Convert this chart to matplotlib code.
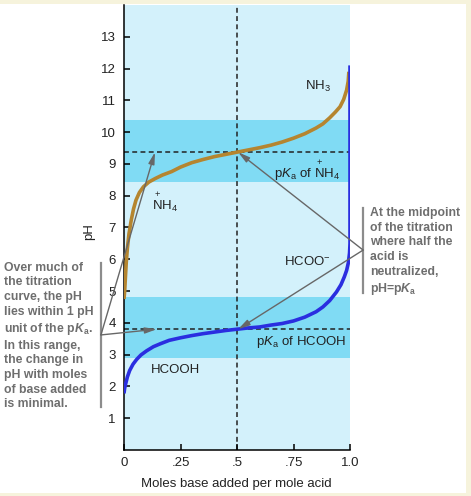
import matplotlib
matplotlib.use("Agg")
import matplotlib.pyplot as plt
from matplotlib.patches import Rectangle

plt.rcParams['font.family'] = ['Liberation Sans', 'DejaVu Sans']
plt.rcParams['mathtext.fontset'] = 'custom'
plt.rcParams['mathtext.rm'] = 'Liberation Sans'
plt.rcParams['mathtext.it'] = 'Liberation Sans:italic'
plt.rcParams['mathtext.bf'] = 'Liberation Sans:bold'
plt.rcParams['mathtext.bfit'] = 'Liberation Sans:bold:italic'

# HCOOH titration curve (blue)
hcooh_x = [0.0, 0.003, 0.008, 0.015, 0.025, 0.04, 0.056, 0.075, 0.10, 0.13, 0.16,
           0.20, 0.25, 0.30, 0.35, 0.40, 0.45, 0.50, 0.55, 0.60, 0.65, 0.70, 0.75,
           0.80, 0.85, 0.88, 0.91, 0.94, 0.96, 0.975, 0.985, 0.993, 0.998, 1.0, 1.0]
hcooh_ph = [1.78, 1.95, 2.1, 2.3, 2.5, 2.7, 2.85, 2.99, 3.12, 3.25, 3.34,
            3.45, 3.53, 3.6, 3.66, 3.71, 3.76, 3.8, 3.84, 3.87, 3.93, 3.98, 4.06,
            4.18, 4.35, 4.5, 4.7, 4.97, 5.2, 5.45, 5.65, 5.9, 6.2, 6.5, 12.1]

# NH4+ titration curve (brown)
nh4_x = [0.0, 0.003, 0.006, 0.01, 0.015, 0.022, 0.032, 0.042, 0.053, 0.068, 0.086,
         0.11, 0.138, 0.17, 0.211, 0.25, 0.30, 0.35, 0.40, 0.45, 0.50, 0.55, 0.60,
         0.65, 0.70, 0.75, 0.80, 0.85, 0.88, 0.91, 0.935, 0.956, 0.972, 0.985,
         0.992, 0.995]
nh4_ph = [4.75, 5.0, 5.4, 5.9, 6.35, 6.8, 7.23, 7.58, 7.86, 8.1, 8.28,
          8.43, 8.54, 8.65, 8.76, 8.9, 9.04, 9.14, 9.23, 9.3, 9.37, 9.44, 9.51,
          9.59, 9.69, 9.81, 9.95, 10.13, 10.26, 10.45, 10.63, 10.8, 11.03, 11.32,
          11.6, 11.9]

pka_nh4 = 9.37
pka_hcooh = 3.8
band_nh4 = (8.43, 10.38)
band_hcooh = (2.89, 4.81)

xticks = [0, 0.25, 0.5, 0.75, 1.0]
xticklabels = ['0', '.25', '.5', '.75', '1.0']
yticks = list(range(1, 14))

W, H = 471, 496
fig = plt.figure(figsize=(W / 100, H / 100), dpi=100)
fig.patch.set_facecolor('#f6f3dc')
fig.patches.append(Rectangle((0, 3 / H), 466 / W, 489 / H, transform=fig.transFigure,
                             facecolor='white', edgecolor='none', zorder=-10))

ax = fig.add_axes([124 / W, 1 - 450 / H, 226 / W, 445 / H])
ax.set_facecolor('#d3f1fb')
ax.set_xlim(0, 1.0)
ax.set_ylim(0, 14)

ax.axhspan(*band_nh4, color='#80dbf4', lw=0, zorder=0)
ax.axhspan(*band_hcooh, color='#80dbf4', lw=0, zorder=0)

dash = (0, (3.2, 2.2))
ax.axhline(pka_nh4, color='#222222', lw=1.1, ls=dash, zorder=1)
ax.axhline(pka_hcooh, color='#222222', lw=1.1, ls=dash, zorder=1)
ax.axvline(0.5, color='#222222', lw=1.1, ls=dash, zorder=1)

ax.plot(nh4_x, nh4_ph, color='#b5852f', lw=2.6, solid_capstyle='butt',
        solid_joinstyle='round', zorder=3)
ax.plot(hcooh_x, hcooh_ph, color='#2a2ee0', lw=2.6, solid_capstyle='butt',
        solid_joinstyle='round', zorder=3)

for s in ['top', 'right']:
    ax.spines[s].set_visible(False)
for s in ['left', 'bottom']:
    ax.spines[s].set_linewidth(1.1)

ax.set_xticks(xticks)
ax.set_xticklabels(xticklabels)
ax.set_yticks(yticks)
ax.tick_params(direction='in', length=4, width=1.1, labelsize=9.5, labelcolor='#222222')
ax.tick_params(axis='x', pad=5)
ax.tick_params(axis='y', pad=6)

ax.set_xlabel('Moles base added per mole acid', fontsize=9.5, color='#222222')
ax.xaxis.set_label_coords(0.496, -0.062)
ax.set_ylabel('pH', fontsize=9.5, color='#222222')
ax.yaxis.set_label_coords(-0.128, 0.49)

txt = '#222222'
ax.text(0.858, 11.45, r'NH$_3$', fontsize=9.5, color=txt, ha='center', va='center')
ax.text(0.81, 8.78, r'p$K_\mathrm{a}$ of $\overset{+}{\mathrm{N}}\mathrm{H}_4$', fontsize=9.5,
        color=txt, ha='center', va='center')
ax.text(0.18, 7.8, r'$\overset{+}{\mathrm{N}}\mathrm{H}_4$', fontsize=9.5, color=txt,
        ha='center', va='center')
ax.text(0.81, 5.93, r'HCOO$^{-}$', fontsize=9.5, color=txt, ha='center', va='center')
ax.text(0.783, 3.4, r'p$K_\mathrm{a}$ of HCOOH', fontsize=9.5, color=txt,
        ha='center', va='center')
ax.text(0.226, 2.52, 'HCOOH', fontsize=9.5, color=txt, ha='center', va='center')

note = '#6e6e6e'
left_note = ('Over much of\nthe titration\ncurve, the pH\nlies within 1 pH\n'
             'unit of the p$\\mathbfit{K}_\\mathbf{a}$.\nIn this range,\nthe change in\n'
             'pH with moles\nof base added\nis minimal.')
right_note = ('At the midpoint\nof the titration\nwhere half the\nacid is\n'
              'neutralized,\npH=p$\\mathbfit{K}_\\mathbf{a}$')
ax.text(-0.531, 5.93, left_note, fontsize=8.8, fontweight='bold', color=note,
        ha='left', va='top', linespacing=1.3, clip_on=False)
ax.text(1.088, 7.65, right_note, fontsize=8.8, fontweight='bold', color=note,
        ha='left', va='top', linespacing=1.3, clip_on=False)

bar = '#8c8c8c'
ax.plot([-0.102, -0.102], [1.35, 5.88], color=bar, lw=1.6, clip_on=False)
ax.plot([1.058, 1.058], [4.94, 7.61], color=bar, lw=1.6, clip_on=False)

arrow = dict(arrowstyle='-|>,head_length=0.7,head_width=0.18', color='#676767',
             lw=1.0, shrinkA=0, shrinkB=0)
ax.annotate('', xy=(0.137, pka_nh4), xytext=(-0.102, 3.62), arrowprops=arrow,
            annotation_clip=False)
ax.annotate('', xy=(0.145, pka_hcooh), xytext=(-0.102, 3.62), arrowprops=arrow,
            annotation_clip=False)
ax.annotate('', xy=(0.505, pka_nh4), xytext=(1.058, 6.29), arrowprops=arrow,
            annotation_clip=False)
ax.annotate('', xy=(0.505, pka_hcooh), xytext=(1.058, 6.29), arrowprops=arrow,
            annotation_clip=False)

fig.savefig('out.png', dpi=100, facecolor=fig.get_facecolor())
